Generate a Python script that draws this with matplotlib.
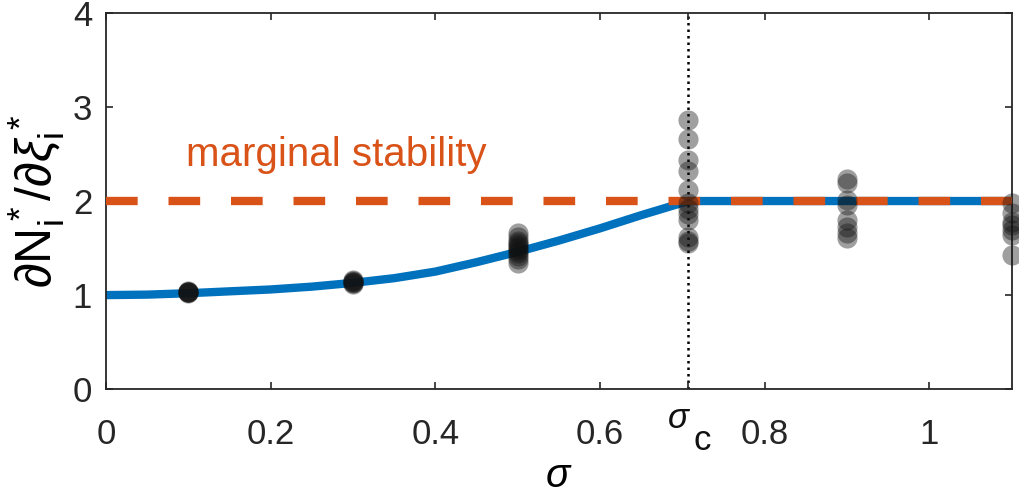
import numpy as np
import matplotlib.pyplot as plt

plt.rcParams['font.family'] = ['Liberation Sans', 'DejaVu Sans']
plt.rcParams['mathtext.fontset'] = 'custom'
plt.rcParams['mathtext.rm'] = 'Liberation Sans'
plt.rcParams['mathtext.it'] = 'Liberation Sans:italic'

# theory curve
sigma_curve = [0.0, 0.05, 0.1, 0.15, 0.2, 0.25, 0.3, 0.35, 0.4, 0.45, 0.5, 0.55, 0.6, 0.65, 0.7071, 0.8, 0.9, 1.0, 1.1]
slope_curve = [1.00, 1.005, 1.02, 1.04, 1.06, 1.09, 1.13, 1.18, 1.25, 1.35, 1.46, 1.58, 1.71, 1.85, 2.0, 2.0, 2.0, 2.0, 2.0]

sigma_c = 0.7071
marginal = 2.0

# simulation points
pts_01 = [1.03, 1.03, 1.03, 1.04, 1.03, 1.02]
pts_03 = [1.12, 1.13, 1.14, 1.15, 1.16, 1.14]
pts_05 = [1.66, 1.62, 1.57, 1.55, 1.53, 1.51, 1.49, 1.47, 1.45, 1.42, 1.38, 1.34]
pts_c = [2.86, 2.66, 2.44, 2.32, 2.12, 1.98, 1.92, 1.86, 1.80, 1.62, 1.57, 1.55]
pts_09 = [2.23, 2.19, 2.01, 1.96, 1.80, 1.72, 1.66, 1.61]
pts_11 = [1.98, 1.87, 1.78, 1.74, 1.69, 1.64, 1.43]

xticks = [0, 0.2, 0.4, 0.6, sigma_c, 0.8, 1]
xticklabels = ['0', '0.2', '0.4', '0.6', '', '0.8', '1']

blue = '#0072BD'
orange = '#D95319'

fig = plt.figure(figsize=(10.2, 4.97), dpi=100)
ax = fig.add_axes([0.104, 0.217, 0.888, 0.757])

ax.plot(sigma_curve, slope_curve, color=blue, lw=6, solid_capstyle='butt', zorder=2)
ax.plot([0, 1.1], [marginal, marginal], color=orange, lw=6, dashes=(3.8, 3.7), zorder=3)
ax.axvline(sigma_c, color='black', ls=(0, (1, 1.6)), lw=1.8, zorder=1)

groups = [(0.1, pts_01), (0.3, pts_03), (0.5, pts_05), (sigma_c, pts_c), (0.9, pts_09), (1.1, pts_11)]
for s, vals in groups:
    ax.plot([s] * len(vals), vals, 'o', color='#111111', alpha=0.4, ms=14.5, mew=0, zorder=4, clip_on=False)

ax.text(0.28, 2.49, 'marginal stability', color=orange, fontsize=29, ha='center', va='center')

ax.set_xlim(0, 1.1)
ax.set_ylim(0, 4)
ax.set_xticks(xticks)
ax.set_xticklabels(xticklabels)
ax.set_yticks([0, 1, 2, 3, 4])
ax.tick_params(direction='in', top=True, right=True, length=5, width=1.2, labelsize=25, colors='#262626')
ax.tick_params(axis='x', pad=21)
ax.tick_params(axis='y', pad=10)
for sp in ax.spines.values():
    sp.set_color('#262626')
    sp.set_linewidth(1.3)

# sigma_c tick label, drawn in two parts like the original
ax.annotate(r'$\sigma$', xy=(sigma_c, 0), xycoords=('data', 'axes fraction'),
            xytext=(-7, -21), textcoords='offset points', fontsize=25,
            ha='center', va='center', color='#111111')
ax.annotate('c', xy=(sigma_c, 0), xycoords=('data', 'axes fraction'),
            xytext=(10, -37), textcoords='offset points', fontsize=25,
            ha='center', va='center', color='#111111')

ax.set_xlabel(r'$\sigma$', fontsize=29, labelpad=4)
ax.set_ylabel(r'$\partial\mathrm{N}^*_{\mathrm{i}}/\partial\xi^*_{\mathrm{i}}$', fontsize=36, labelpad=4)

fig.savefig('out.png', dpi=100)
